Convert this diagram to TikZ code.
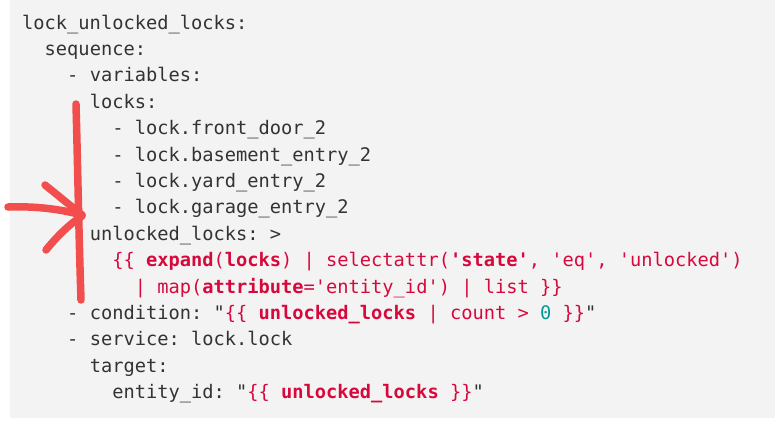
\documentclass[tikz,border=0pt]{standalone}
\usepackage{fontspec}
\setmonofont{DejaVu Sans Mono}
\definecolor{bgc}{HTML}{F3F3F3}
\definecolor{txt}{HTML}{333333}
\definecolor{kw}{HTML}{D7093C}
\definecolor{num}{HTML}{009999}
\definecolor{pen}{HTML}{F24E4E}
\begin{document}
\begin{tikzpicture}[x=1pt,y=-1pt,
  ln/.style={anchor=base west,inner sep=0pt,text=txt,font=\ttfamily\fontsize{18.7}{22}\selectfont},
  stroke/.style={draw=pen,line width=7.5pt,line cap=round,line join=round}]
\useasboundingbox (0,0) rectangle (775,429);
\fill[bgc] (10,0) rectangle (775,418);
\newcommand\cw{11.26}
\newcommand\R[1]{\textcolor{kw}{#1}}
\newcommand\B[1]{\textcolor{kw}{\bfseries #1}}
\node[ln] (l1) at (22,29) {lock\_unlocked\_locks:};
\node[ln] (l2) at (22+2*\cw,55.4) {sequence:};
\node[ln] (l3) at (22+4*\cw,81.8) {- variables:};
\node[ln] (l4) at (22+6*\cw,108.2) {locks:};
\node[ln] (l5) at (22+8*\cw,134.6) {- lock.front\_door\_2};
\node[ln] (l6) at (22+8*\cw,161) {- lock.basement\_entry\_2};
\node[ln] (l7) at (22+8*\cw,187.4) {- lock.yard\_entry\_2};
\node[ln] (l8) at (22+8*\cw,213.8) {- lock.garage\_entry\_2};
\node[ln] (l9) at (22+6*\cw,240.2) {unlocked\_locks: >};
\node[ln] (l10) at (22+8*\cw,266.6) {\R{\{\{} \B{expand}\R{(}\B{locks}\R{)} \R{|} \R{selectattr(}\B{'state'}\R{,} \R{'eq',} \R{'unlocked')}};
\node[ln] (l11) at (22+10*\cw,293) {\R{|} \R{map(}\B{attribute}\R{='entity\_id')} \R{|} \R{list} \R{\}\}}};
\node[ln] (l12) at (22+4*\cw,319.4) {- condition: "\R{\{\{} \B{unlocked\_locks} \R{|} \R{count} \R{>} \textcolor{num}{0} \R{\}\}}"};
\node[ln] (l13) at (22+4*\cw,345.8) {- service: lock.lock};
\node[ln] (l14) at (22+6*\cw,372.2) {target:};
\node[ln] (l15) at (22+8*\cw,398.6) {entity\_id: "\R{\{\{} \B{unlocked\_locks} \R{\}\}}"};
\draw[stroke] (76,104) .. controls (78,180) and (79,240) .. (81,300);
\draw[stroke] (8,207) .. controls (35,206) and (60,209) .. (82,215);
\draw[stroke] (45,185) .. controls (60,197) and (72,207) .. (82,215);
\draw[stroke] (46,250) .. controls (58,235) and (70,224) .. (82,216);
\end{tikzpicture}
\end{document}
